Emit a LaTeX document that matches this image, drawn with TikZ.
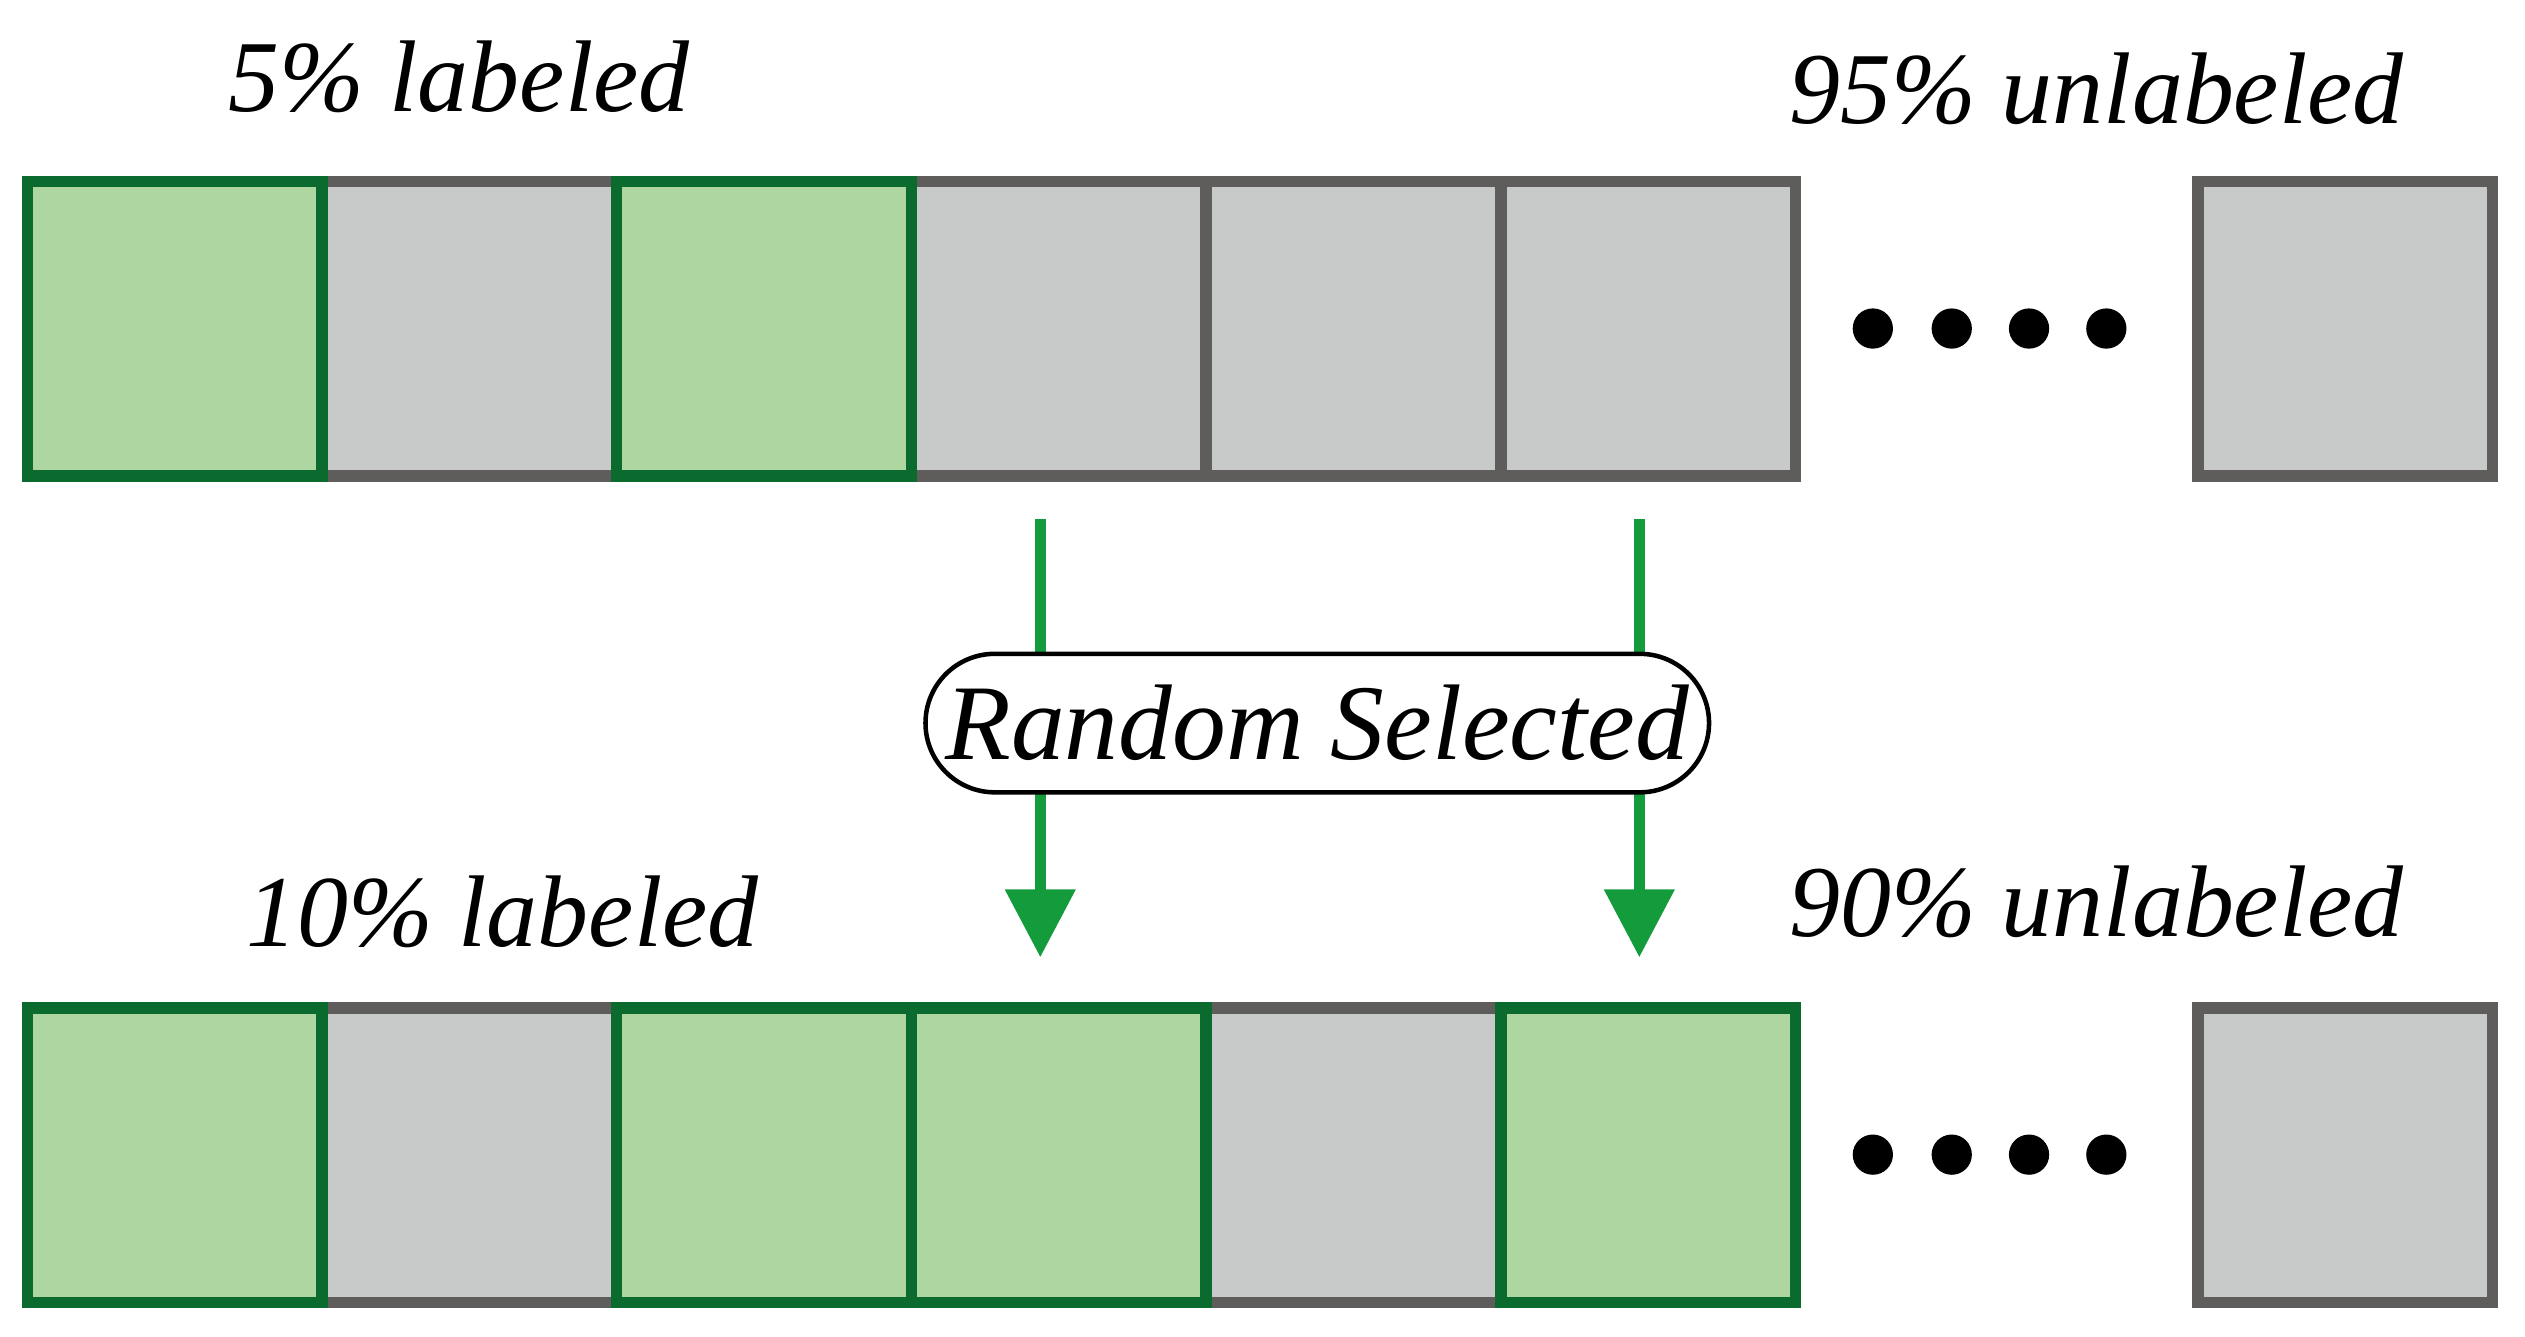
\documentclass[tikz,border=0pt]{standalone}
\usepackage{fontspec}
\setmainfont{Liberation Serif}
\usetikzlibrary{arrows.meta,shapes.misc}
\definecolor{cellgreen}{HTML}{AED6A0}
\definecolor{edgegreen}{HTML}{0B6B2E}
\definecolor{cellgray}{HTML}{C8CAC9}
\definecolor{edgegray}{HTML}{5F5C5C}
\definecolor{arrowgreen}{HTML}{149B3C}
\tikzset{>={Triangle[width=12pt,length=12pt]}}
\tikzset{
  cell/.style={draw, line width=2pt, minimum size=1.83cm, inner sep=0pt},
  grey cell/.style={cell, fill=cellgray, draw=edgegray},
  green cell/.style={cell, fill=cellgreen, draw=edgegreen},
  caption/.style={font=\fontsize{18}{21}\selectfont\itshape},
  dot/.style={circle, fill=black, inner sep=0pt, minimum size=0.25cm},
  pick/.style={->, arrowgreen, line width=2pt}
}
\begin{document}
\begin{tikzpicture}
\useasboundingbox (0,0) rectangle (15.68,-8.30);

% top row
\foreach \i in {1,...,6} {
  \node[grey cell] (t\i) at ({0.17+0.915+(\i-1)*1.83},-2.04) {};
}
\node[grey cell] (t7) at (14.565,-2.04) {};
\foreach \i in {1,3} {
  \node[green cell] (t\i) at ({0.17+0.915+(\i-1)*1.83},-2.04) {};
}

% bottom row
\foreach \i in {1,...,6} {
  \node[grey cell] (b\i) at ({0.17+0.915+(\i-1)*1.83},-7.175) {};
}
\node[grey cell] (b7) at (14.565,-7.175) {};
\foreach \i in {1,3,4,6} {
  \node[green cell] (b\i) at ({0.17+0.915+(\i-1)*1.83},-7.175) {};
}

% dots
\foreach \x [count=\k] in {11.63,12.12,12.60,13.08} {
  \node[dot] (td\k) at (\x,-2.04) {};
  \node[dot] (bd\k) at (\x,-7.17) {};
}

% captions
\node[caption] (lt) at (2.85,-0.48) {5\% labeled};
\node[caption] (ut) at (13.02,-0.55) {95\% unlabeled};
\node[caption] (lb) at (3.12,-5.66) {10\% labeled};
\node[caption] (ub) at (13.02,-5.60) {90\% unlabeled};

% arrows
\coordinate (s1) at (6.46,-3.22);
\coordinate (s2) at (10.18,-3.22);
\draw[pick] (s1) -- ([yshift=0.28cm]b4.north -| s1);
\draw[pick] (s2) -- ([yshift=0.28cm]b6.north -| s2);

\node[draw, fill=white, rounded rectangle, line width=0.8pt,
      minimum width=5.1cm, minimum height=0.86cm,
      font=\fontsize{19}{22}\selectfont\itshape] (rs) at (8.18,-4.49) {Random Selected};

\end{tikzpicture}
\end{document}
